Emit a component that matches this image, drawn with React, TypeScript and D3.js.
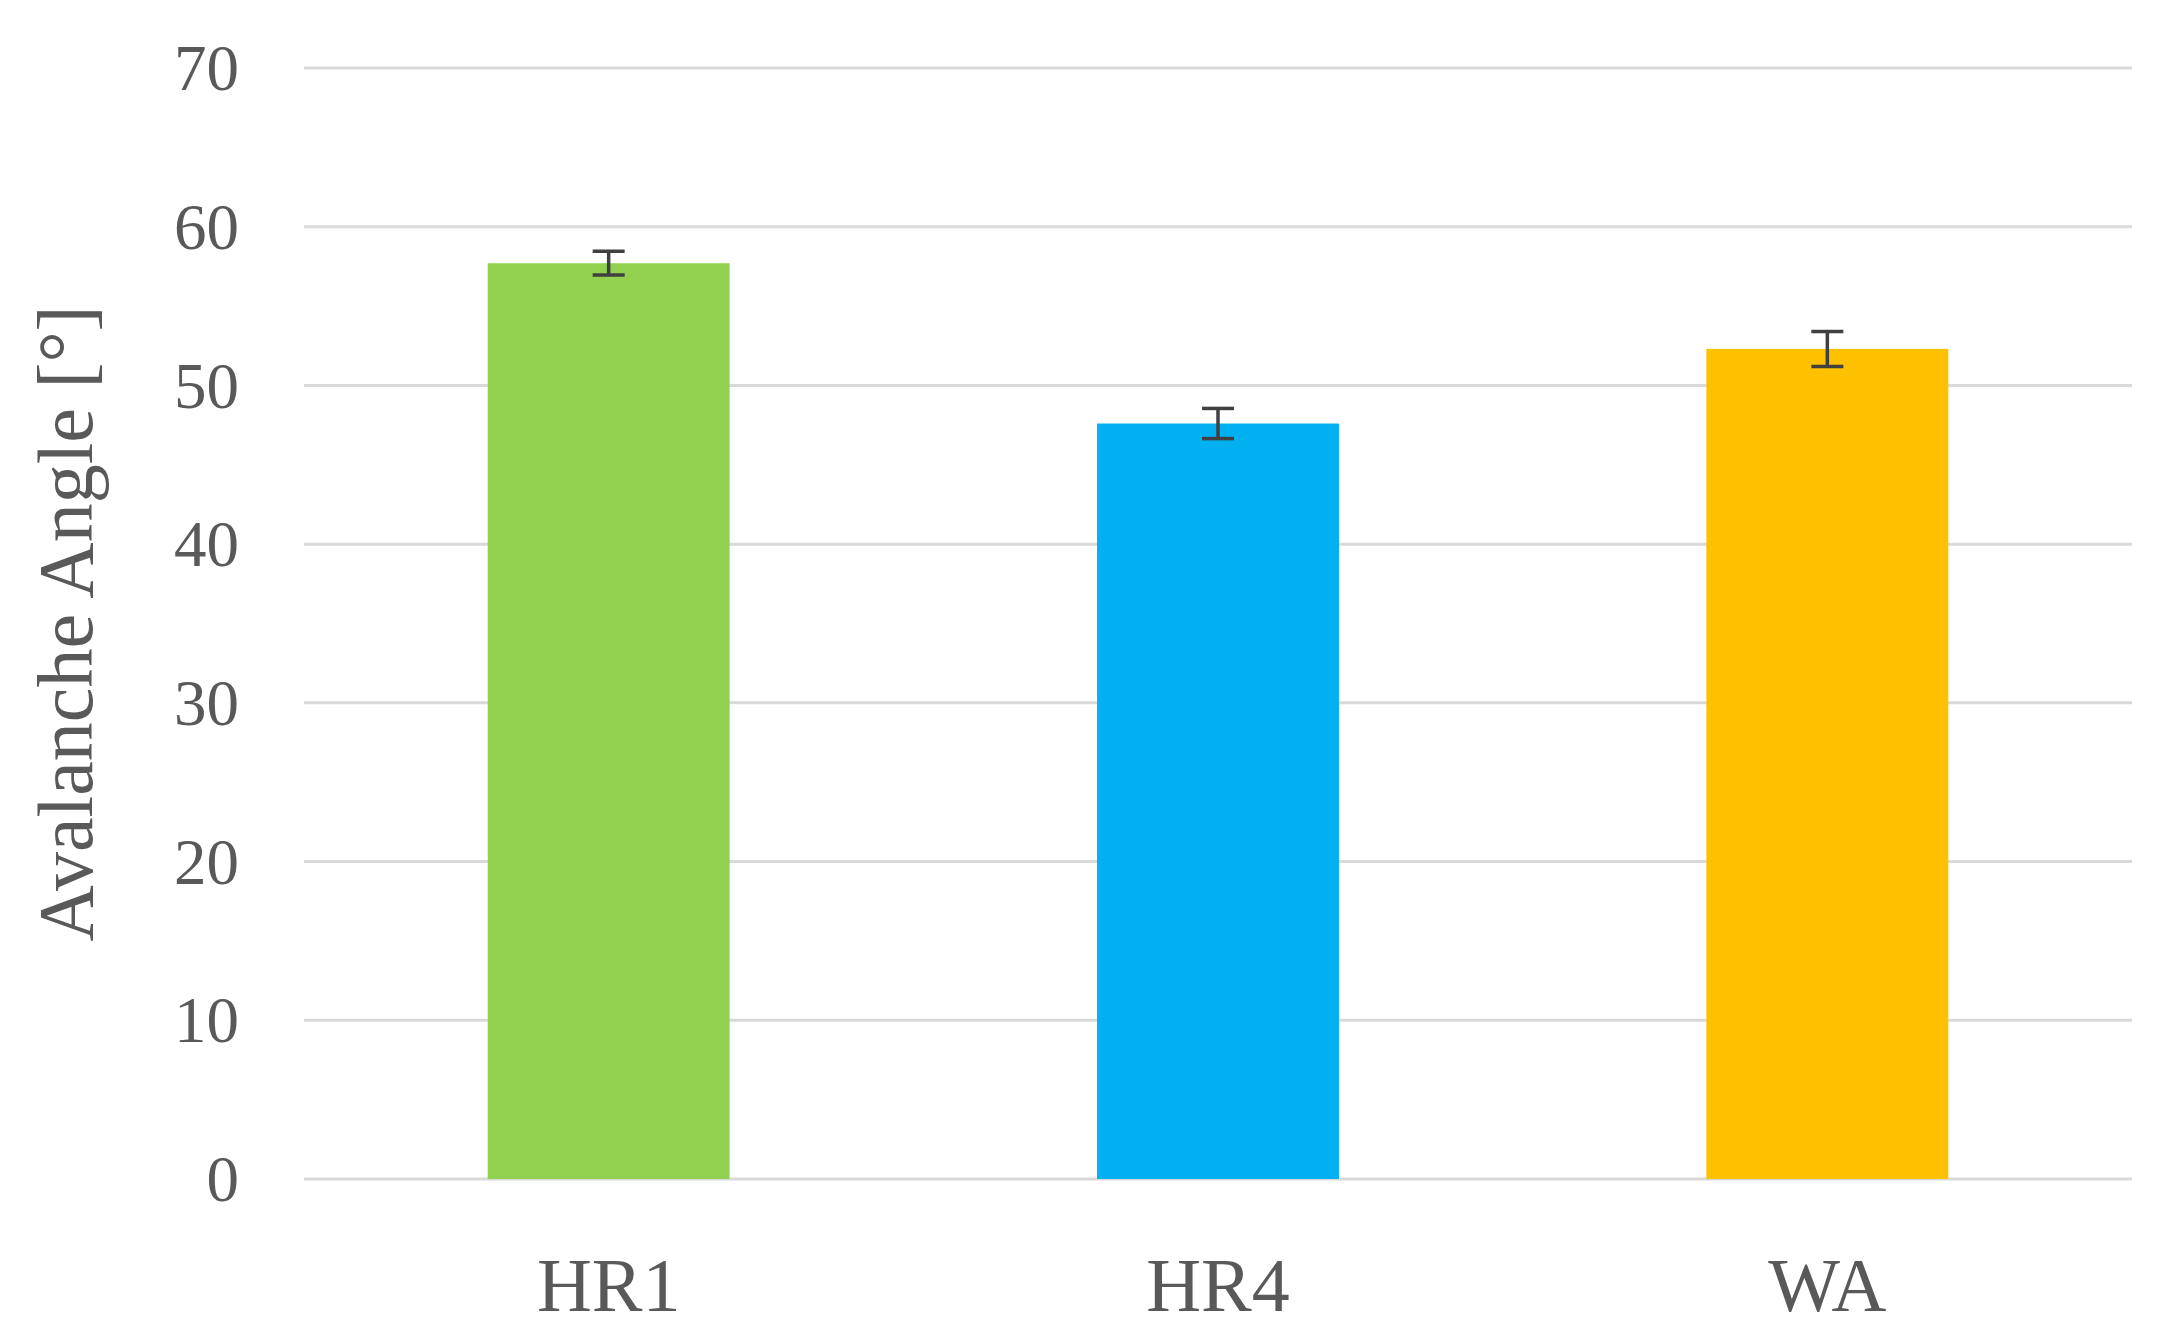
import React from 'react';
import * as d3 from 'd3';

// chart data
const categories = ['HR1', 'HR4', 'WA'];
const angles = [57.7, 47.6, 52.3];
const errors = [0.75, 0.95, 1.1];
const barColors = ['#92d050', '#00b0f0', '#ffc000'];
const yTicks = [0, 10, 20, 30, 40, 50, 60, 70];
const yTitle = 'Avalanche Angle [°]';

const W = 2169;
const H = 1342;
const margin = { top: 68, right: 37, bottom: 163, left: 304 };
const innerW = W - margin.left - margin.right;
const innerH = H - margin.top - margin.bottom;

const textColor = '#595959';
const font = '"Liberation Serif", "DejaVu Serif", serif';

const App = () => {
  const x = d3.scaleBand<string>().domain(categories).range([0, innerW]).padding(0);
  const y = d3.scaleLinear().domain([0, 70]).range([innerH, 0]);
  const barW = x.bandwidth() * 0.397; // Excel style gap width
  const capW = 32;

  return (
    <svg width={W} height={H} style={{ position: 'absolute', left: 0, top: 0, background: '#fff' }}>
      <g transform={`translate(${margin.left},${margin.top})`}>
        {/* gridlines */}
        {yTicks.map(t => (
          <line key={t} x1={0} x2={innerW} y1={y(t)} y2={y(t)} stroke="#d9d9d9" strokeWidth={3} />
        ))}
        {/* tick labels */}
        {yTicks.map(t => (
          <text
            key={'l' + t}
            x={-65}
            y={y(t)}
            dy="0.34em"
            textAnchor="end"
            fontFamily={font}
            fontSize={65}
            fill={textColor}
          >
            {t}
          </text>
        ))}
        {/* bars */}
        {categories.map((c, i) => {
          const cx = (x(c) as number) + x.bandwidth() / 2;
          return (
            <rect
              key={c}
              x={cx - barW / 2}
              width={barW}
              y={y(angles[i])}
              height={y(0) - y(angles[i])}
              fill={barColors[i]}
            />
          );
        })}
        {/* error bars */}
        {categories.map((c, i) => {
          const cx = (x(c) as number) + x.bandwidth() / 2;
          const hi = y(angles[i] + errors[i]);
          const lo = y(angles[i] - errors[i]);
          return (
            <g key={'e' + c} stroke="#404040" strokeWidth={3.5}>
              <line x1={cx} x2={cx} y1={hi} y2={lo} />
              <line x1={cx - capW / 2} x2={cx + capW / 2} y1={hi} y2={hi} />
              <line x1={cx - capW / 2} x2={cx + capW / 2} y1={lo} y2={lo} />
            </g>
          );
        })}
        {/* category labels */}
        {categories.map(c => (
          <text
            key={'c' + c}
            x={(x(c) as number) + x.bandwidth() / 2}
            y={innerH + 132}
            textAnchor="middle"
            fontFamily={font}
            fontSize={76}
            fill={textColor}
          >
            {c}
          </text>
        ))}
      </g>
      {/* y axis title */}
      <text
        transform={`translate(92,${margin.top + innerH / 2}) rotate(-90)`}
        textAnchor="middle"
        fontFamily={font}
        fontSize={78}
        fill={textColor}
      >
        {yTitle}
      </text>
    </svg>
  );
};

export default App;
